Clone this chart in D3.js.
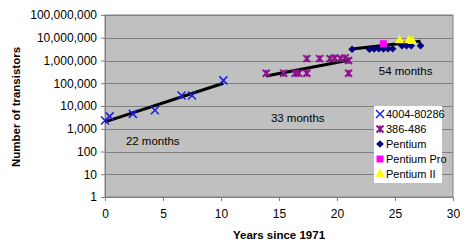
<!DOCTYPE html>
<html>
<head>
<meta charset="utf-8">
<script src="https://cdn.jsdelivr.net/npm/d3@7"></script>
<style>
  body { margin: 0; background: #fff; }
  svg { display: block; font-family: Arial, "Liberation Sans", sans-serif; }
</style>
</head>
<body>
<svg id="chart" width="474" height="252"></svg>
<script>
// data
const years4004 = [0, 0.4, 2.4, 4.3, 6.6, 7.5, 10.2];
const trans4004 = [2300, 3500, 4500, 6500, 29000, 29000, 134000];

const years386 = [13.9, 15.4, 16.4, 16.7, 17.4, 17.4, 18.5, 19.4, 19.8, 20.3, 20.7, 21.0, 21.0];
const trans386 = [275000, 275000, 275000, 275000, 275000, 1200000, 1200000, 1200000, 1300000, 1200000, 1300000, 1000000, 275000];

const yearsPentium = [21.3, 22.8, 23.2, 23.6, 24.0, 24.4, 24.8, 25.6, 26.0, 26.4, 27.2];
const transPentium = [3100000, 3100000, 3200000, 3300000, 3200000, 3300000, 3300000, 4500000, 4500000, 4500000, 4500000];

const yearsPro = [24.0];
const transPro = [5500000];

const yearsP2 = [25.4, 26.2, 26.5];
const transP2 = [7500000, 7500000, 7000000];

const trendYears = [[0, 10.2], [13.9, 21.1], [21.3, 27.2]];
const trendValues = [[2000, 100000], [210000, 1050000], [3200000, 7000000]];
const trendLabels = ['22 months', '33 months', '54 months'];
const trendLabelAt = [[1.8, 200], [14.3, 2000], [23.6, 230000]];

const xTicks = [0, 5, 10, 15, 20, 25, 30];
const yTicks = [1, 10, 100, 1000, 10000, 100000, 1000000, 10000000, 100000000];

const seriesNames = ['4004-80286', '386-486', 'Pentium', 'Pentium Pro', 'Pentium II'];

const svg = d3.select('#chart');
const plotLeft = 105, plotRight = 453, plotTop = 15, plotBottom = 197;

const x = d3.scaleLinear().domain([0, 30]).range([plotLeft, plotRight]);
const y = d3.scaleLog().domain([1, 1e8]).range([plotBottom, plotTop]);

// plot area
svg.append('rect')
  .attr('x', plotLeft).attr('y', plotTop)
  .attr('width', plotRight - plotLeft).attr('height', plotBottom - plotTop)
  .attr('fill', '#c0c0c0')
  .attr('stroke', '#808080').attr('stroke-width', 1);

svg.append('g')
  .selectAll('line')
  .data(yTicks)
  .join('line')
  .attr('x1', plotLeft).attr('x2', plotRight)
  .attr('y1', d => Math.round(y(d)) + 0.5).attr('y2', d => Math.round(y(d)) + 0.5)
  .attr('stroke', '#808080').attr('stroke-width', 1);

// axes
const fmt = d3.format(',');
const yAxis = svg.append('g')
  .attr('transform', `translate(${plotLeft},0)`)
  .call(d3.axisLeft(y).tickValues(yTicks).tickFormat(fmt).tickSize(4).tickPadding(4));
const xAxis = svg.append('g')
  .attr('transform', `translate(0,${plotBottom})`)
  .call(d3.axisBottom(x).tickValues(xTicks).tickSize(4).tickPadding(8));
[yAxis, xAxis].forEach(a => {
  a.select('.domain').attr('stroke', '#808080');
  a.selectAll('.tick line').attr('stroke', '#808080');
  a.selectAll('text').attr('font-size', 12).attr('fill', '#000')
    .attr('font-family', 'Arial, "Liberation Sans", sans-serif');
});

// titles
svg.append('text')
  .attr('transform', 'translate(20,107) rotate(-90)')
  .attr('text-anchor', 'middle')
  .attr('font-size', 11.5).attr('font-weight', 'bold')
  .text('Number of transistors');
svg.append('text')
  .attr('x', 279).attr('y', 239)
  .attr('text-anchor', 'middle')
  .attr('font-size', 11.5).attr('font-weight', 'bold')
  .text('Years since 1971');

// trend lines
svg.append('g')
  .selectAll('line')
  .data(trendYears)
  .join('line')
  .attr('x1', d => x(d[0])).attr('x2', d => x(d[1]))
  .attr('y1', (d, i) => y(trendValues[i][0])).attr('y2', (d, i) => y(trendValues[i][1]))
  .attr('stroke', '#000').attr('stroke-width', 3);

svg.append('g')
  .selectAll('text')
  .data(trendLabels)
  .join('text')
  .attr('x', (d, i) => x(trendLabelAt[i][0]))
  .attr('y', (d, i) => y(trendLabelAt[i][1]))
  .attr('font-size', 11.5)
  .text(d => d);

// marker shapes
const cross = s => `M${-s},${-s}L${s},${s}M${-s},${s}L${s},${-s}`;
const star = s => `M${-s},${-s}L${s},${s}M${-s},${s}L${s},${-s}M0,${-s}L0,${s}`;
const diamond = s => `M0,${-s}L${s},0L0,${s}L${-s},0Z`;

function points(xs, ys, draw) {
  const g = svg.append('g');
  xs.forEach((d, i) => {
    draw(g.append('g').attr('transform', `translate(${x(d)},${y(ys[i])})`));
  });
}
const drawCross = g => g.append('path').attr('d', cross(4)).attr('stroke', '#1c1cdc').attr('stroke-width', 1.5).attr('fill', 'none');
const drawStar = g => g.append('path').attr('d', star(3.5)).attr('stroke', '#8b108b').attr('stroke-width', 1.8).attr('fill', 'none');
const drawDiamond = g => g.append('path').attr('d', diamond(3.8)).attr('fill', '#000080');
const drawSquare = g => g.append('path').attr('d', d3.symbol(d3.symbolSquare, 49)()).attr('fill', '#ff00ff');
const drawTriangle = g => g.append('path').attr('d', d3.symbol(d3.symbolTriangle, 40)()).attr('fill', '#ffff00');

points(years386, trans386, drawStar);
points(years4004, trans4004, drawCross);
points(yearsPentium, transPentium, drawDiamond);
points(yearsPro, transPro, drawSquare);
points(yearsP2, transP2, drawTriangle);

// legend
const legend = svg.append('g').attr('transform', 'translate(374,106)');
legend.append('rect').attr('width', 68).attr('height', 77).attr('fill', '#fff');
const drawers = [drawCross, drawStar, drawDiamond, drawSquare, drawTriangle];
seriesNames.forEach((name, i) => {
  const row = legend.append('g').attr('transform', `translate(6,${8 + i * 15})`);
  drawers[i](row.append('g'));
  row.append('text').attr('x', 6).attr('dy', '0.35em')
    .attr('font-size', 11).text(name);
});
</script>
</body>
</html>
